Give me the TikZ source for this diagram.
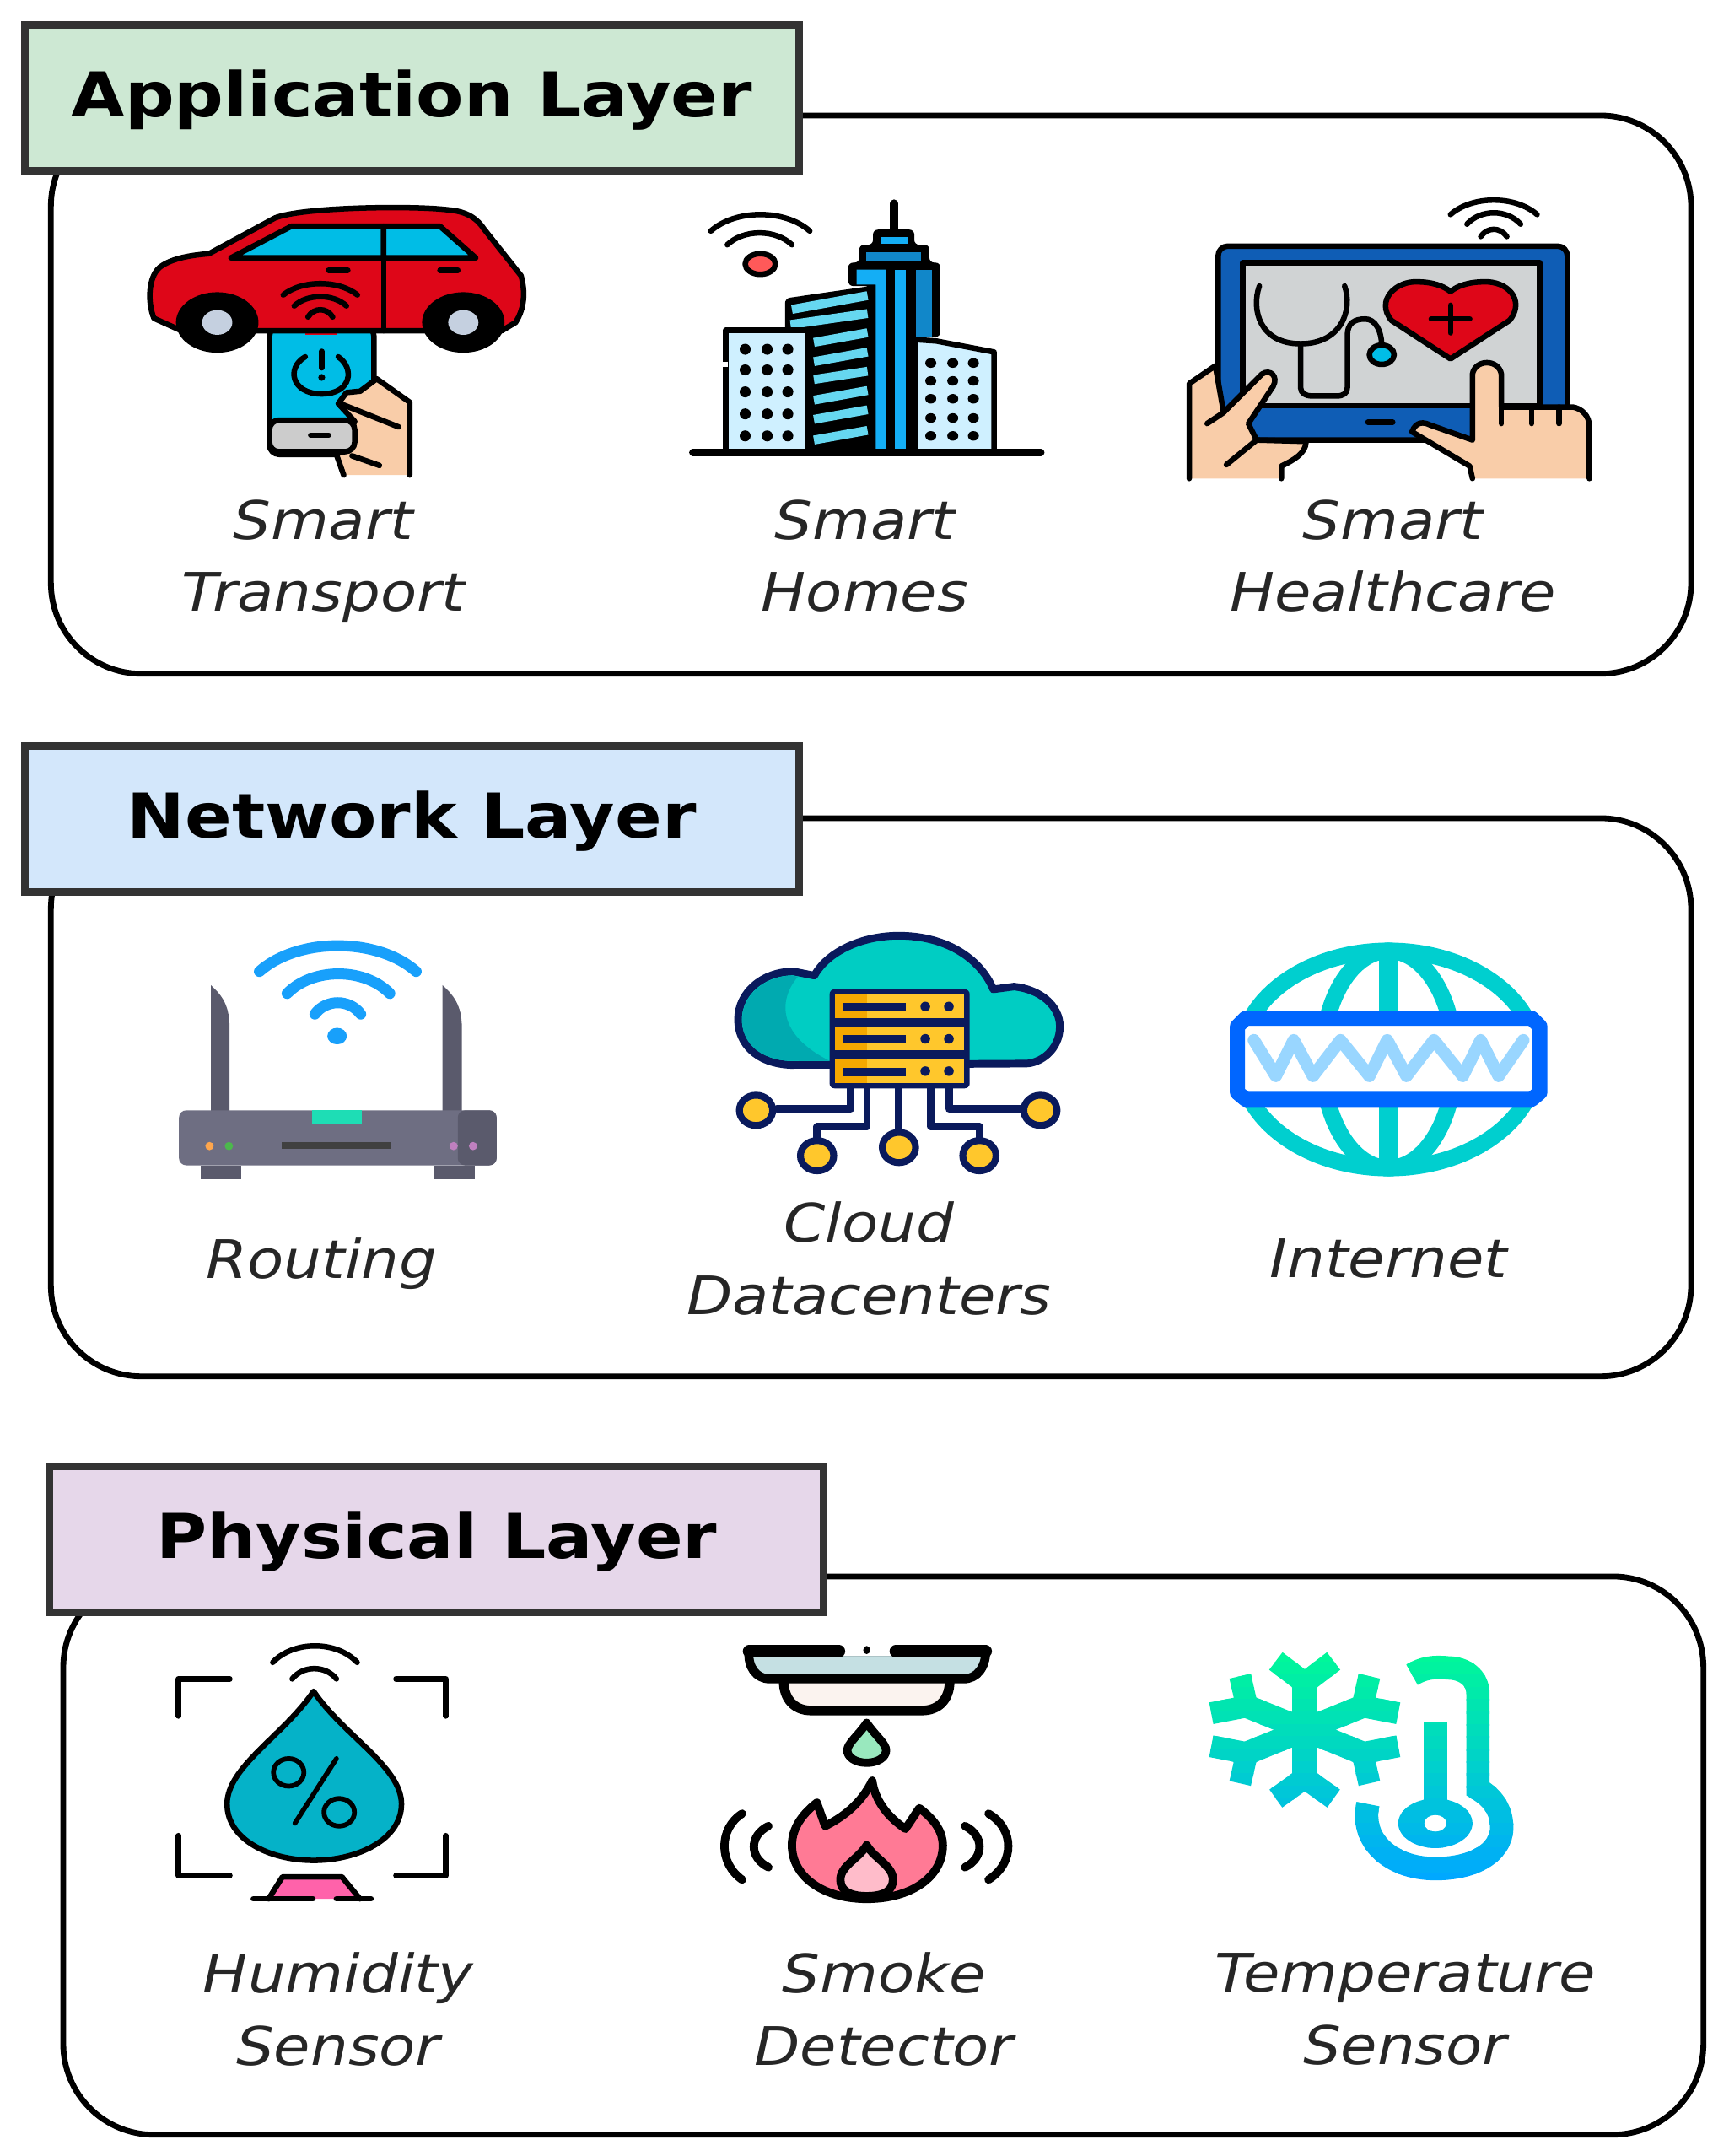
\documentclass[tikz,border=0pt]{standalone}
\usepackage{fontspec}
\setsansfont[FakeStretch=1.12]{DejaVu Sans}
\definecolor{appgreen}{HTML}{CDE8D3}
\definecolor{netblue}{HTML}{D3E7FB}
\definecolor{physlilac}{HTML}{E6D7EA}
\definecolor{carred}{HTML}{DE0618}
\definecolor{glass}{HTML}{00BDE6}
\definecolor{skin}{HTML}{F9CDA9}
\definecolor{hubgray}{HTML}{C5D0E0}
\definecolor{paleblue}{HTML}{CFF0FF}
\definecolor{towerblue}{HTML}{14AEF5}
\definecolor{deepblue}{HTML}{1187C9}
\definecolor{tabletblue}{HTML}{0F5DB5}
\definecolor{screengray}{HTML}{D0D3D4}
\definecolor{routergray}{HTML}{6E6E82}
\definecolor{routerdark}{HTML}{5A5A6C}
\definecolor{routerteal}{HTML}{1EDDB5}
\definecolor{signalblue}{HTML}{18A0FB}
\definecolor{navy}{HTML}{0A1A5C}
\definecolor{cloudteal}{HTML}{00CDC3}
\definecolor{cloudshade}{HTML}{00AAB0}
\definecolor{serveryellow}{HTML}{FFC72C}
\definecolor{serverorange}{HTML}{F5A800}
\definecolor{globeteal}{HTML}{00CFCF}
\definecolor{barblue}{HTML}{0066FF}
\definecolor{wwwblue}{HTML}{99D6FF}
\definecolor{dropteal}{HTML}{05B2C8}
\definecolor{flamepink}{HTML}{FF7A95}
\definecolor{detectorpale}{HTML}{C5E0E3}
\definecolor{cupwhite}{HTML}{FBF3EF}
\definecolor{mint}{HTML}{99E8BE}
\definecolor{frostgreen}{HTML}{00F79A}
\definecolor{frostblue}{HTML}{00A8FF}
\begin{document}
\begin{tikzpicture}[x=0.1mm,y=-0.1mm,
  layerpanel/.style={draw=black,line width=0.42mm,rounded corners=6.6mm,minimum width=119.3mm,minimum height=40.6mm},
  layerhead/.style={draw=black!80,line width=0.55mm,minimum width=56.3mm,minimum height=10.6mm,text height=3.3mm,text depth=0.5mm,font=\sffamily\bfseries\fontsize{12.8}{15}\selectfont},
  itemlabel/.style={align=center,text=black!85,font=\sffamily\itshape\fontsize{11}{15}\selectfont,inner sep=0pt,text depth=0pt},
  ink/.style={draw=black,line width=0.4mm,line join=round,line cap=round},
  navyline/.style={draw=navy,line width=0.55mm,line join=round,line cap=round},
  pinhead/.style={draw=navy,fill=serveryellow,line width=0.5mm}]
  \useasboundingbox (0,0) rectangle (1257,1568);
  % panels and their headers
  \node (apppanel) [layerpanel] at (633.5,287) {};
  \node (netpanel) [layerpanel,below of=apppanel,node distance=5.11cm] {};
  \node (physpanel) [layerpanel,below of=netpanel,node distance=5.515cm,xshift=0.09cm] {};
  \node (apphead) [layerhead,fill=appgreen,above of=apppanel,node distance=2.16cm,xshift=-3.34cm] {Application Layer};
  \node (nethead) [layerhead,fill=netblue,above of=netpanel,node distance=2.025cm,xshift=-3.34cm] {Network Layer};
  \node (physhead) [layerhead,fill=physlilac,above of=physpanel,node distance=2.3cm,xshift=-3.25cm] {Physical Layer};
  % labels
  \node (transport) [itemlabel] at (235,404) {Smart\\Transport};
  \node (homes) [itemlabel] at (629,404) {Smart\\Homes};
  \node (health) [itemlabel] at (1013,404) {Smart\\Healthcare};
  \node (routing) [itemlabel] at (234,915) {Routing};
  \node (cloud) [itemlabel] at (632,915) {Cloud\\Datacenters};
  \node (internet) [itemlabel] at (1010,915) {Internet};
  \node (humidity) [itemlabel] at (246,1461) {Humidity\\Sensor};
  \node (smoke) [itemlabel] at (643,1461) {Smoke\\Detector};
  \node (temperature) [itemlabel] at (1022,1461) {Temperature\\Sensor};
  % car
  \begin{scope}[yshift=-0.15mm]
  \draw[ink,fill=glass,rounded corners=2pt] (196,236) rectangle (272,329);
  \fill[carred] (222,236) rectangle (245,242);
  \draw[ink,fill=skin] (298,344) -- (298,291) -- (274,274) -- (262,283) -- (252,284) -- (246,292) -- (258,305) -- (245,330) -- (250,344);
  \draw[ink,fill=black!20,rounded corners=2pt] (196,304) rectangle (258,327);
  \draw[ink] (226,315) -- (239,315);
  \draw[ink] (250,293) -- (290,309);
  \draw[ink] (256,330) -- (276,337);
  \draw[ink] (222,258) .. controls (208,266) and (212,285) .. (234,285) .. controls (256,285) and (258,266) .. (246,258);
  \draw[ink] (234,254) -- (234,266);
  \fill (234,273) circle (2.5);
  \draw[ink,fill=carred] (132,239) -- (112,230) .. controls (107,218) and (108,200) .. (116,193) .. controls (125,186) and (140,184) .. (152,183) -- (200,157) .. controls (220,149) and (300,148) .. (325,151) .. controls (338,152) and (346,156) .. (352,165) -- (379,199) .. controls (382,210) and (382,222) .. (375,233) -- (365,239) -- cycle;
  \draw[ink,fill=glass] (168,186) -- (212,163) -- (279,163) -- (279,186) -- cycle;
  \draw[ink,fill=glass] (279,163) -- (320,163) -- (346,186) -- (279,186) -- cycle;
  \draw[ink] (279,186) -- (279,239);
  \draw[ink] (239,195) -- (253,195);
  \draw[ink] (320,195) -- (333,195);
  \draw[ink] (206,213) .. controls (219.5,202) and (246.5,202) .. (260,213);
  \draw[ink] (214,221) .. controls (223.5,212) and (242.5,212) .. (252,221);
  \draw[ink] (224,229) .. controls (228.5,222) and (237.5,222) .. (242,229);
  \foreach \wheelx in {158,337}{
    \fill[black] (\wheelx,233) ellipse [x radius=30,y radius=22];
    \fill[hubgray] (\wheelx,233) ellipse [x radius=11,y radius=9];
  }
  \end{scope}
  % city
  \begin{scope}[xshift=0.5mm]
  \fill[black,rounded corners=1pt] (566,217) -- (628,208) -- (612,208) -- (612,191) -- (620,191) -- (620,178) -- (630,178) -- (630,167) -- (660,167) -- (660,178) -- (671,178) -- (671,191) -- (679,191) -- (679,245) -- (662,245) -- (662,329) -- (583,329) -- (583,242) -- (566,242) -- cycle;
  \draw[ink,line width=0.6mm] (645.5,148) -- (645.5,167);
  \fill[towerblue] (636,172.5) rectangle (655,177.5);
  \fill[deepblue] (625,183.5) rectangle (665,189.5);
  \fill[towerblue] (618,196) -- (639,196) -- (639,327) -- (632,327) -- (632,207) -- (618,207) -- cycle;
  \fill[towerblue] (646,196) rectangle (654,327);
  \fill[deepblue] (661,196) rectangle (673,245);
  \foreach \lx/\ly/\ry in {571/225/215,570/236/228,587/249/242,587/263/256,587/276/270,587/291/284,587/305/298,587/320/313}{
    \draw[draw=glass!60!white,line width=0.65mm] (\lx,\ly) -- (626,\ry);
  }
  \draw[ink,fill=paleblue] (523,329) -- (523,240) -- (582,240) -- (582,329);
  \draw[white,line width=0.45mm] (522,263) -- (522,267);
  \draw[ink,fill=paleblue] (661,329) -- (661,247) -- (676,248) -- (718,256) -- (718,329);
  \foreach \dx in {537,553,568}{
    \foreach \dy in {254,269,285,301,317}{
      \fill (\dx,\dy) ellipse [x radius=4,y radius=4];
    }
  }
  \foreach \dx in {672,688,703}{
    \foreach \dy in {264,277,290,304,317}{
      \fill (\dx,\dy) ellipse [x radius=4,y radius=3.5];
    }
  }
  \draw[ink,line width=0.55mm] (499,329) -- (752,329);
  \draw[ink] (512,168) .. controls (530,152) and (566,152) .. (584,168);
  \draw[ink] (524,178) .. controls (536,166.5) and (559,166.5) .. (571,178);
  \draw[ink,fill=red!65] (548,192) ellipse [x radius=11,y radius=7.5];
  \end{scope}
  % tablet
  \draw[ink,fill=tabletblue,rounded corners=2pt] (886,179) rectangle (1140,320);
  \draw[ink,fill=screengray] (904,191) rectangle (1120,295);
  \draw[ink] (995,307) -- (1013,307);
  \draw[ink,fill=carred] (1055,261) -- (1012,233) .. controls (1000,218) and (1016,204) .. (1031,205) .. controls (1042,205) and (1050,208) .. (1055,212) .. controls (1060,208) and (1068,205) .. (1079,205) .. controls (1096,204) and (1110,218) .. (1098,233) -- cycle;
  \draw[ink] (1041,232) -- (1069,232);
  \draw[ink] (1055,222) -- (1055,242);
  \draw[ink] (916,208) .. controls (910,225) and (916,250) .. (946,250) .. controls (976,250) and (984,225) .. (978,208);
  \draw[ink] (946,250) -- (946,282) .. controls (946,286) and (950,288) .. (954,288) -- (972,288) .. controls (977,288) and (980,286) .. (980,282) -- (980,244) .. controls (980,235) and (985,232) .. (993,232) .. controls (1000,232) and (1005,240) .. (1005,252);
  \draw[ink,fill=glass] (1005,258) ellipse [x radius=9,y radius=7];
  \draw[ink,fill=skin] (865,348) -- (865,279) -- (884,266) -- (890,300) -- (918,272) .. controls (924,268) and (930,274) .. (926,281) -- (908,308) -- (914,320) -- (950,321) .. controls (950,330) and (940,335) .. (932,339) -- (932,348);
  \draw[ink] (890,300) -- (878,308);
  \draw[ink] (914,320) -- (892,338);
  \draw[ink,fill=skin] (1071,348) -- (1069,339) -- (1027,314) .. controls (1030,306) and (1036,307) .. (1040,309) -- (1071,320) -- (1071,272) .. controls (1073,261) and (1090,261) .. (1092,272) -- (1092,296) -- (1144,296) .. controls (1150,297) and (1156,302) .. (1156,310) -- (1156,348);
  \foreach \tickx in {1092,1114,1134}{
    \draw[ink] (\tickx,296) -- (\tickx,308);
  }
  \draw[ink] (1055,156) .. controls (1071,142) and (1102,142) .. (1118,156);
  \draw[ink] (1067,163) .. controls (1077,152) and (1096,152) .. (1106,163);
  \draw[ink] (1077,172) .. controls (1082,165) and (1091,165) .. (1096,172);
  % router
  \begin{scope}[xscale=1.009,yshift=-0.35mm]
  \fill[routerdark] (145,844) rectangle (174,854);
  \fill[routerdark] (313,844) rectangle (342,854);
  \fill[routerdark] (152,713) .. controls (162,722) and (165.5,730) .. (165.5,745) -- (165.5,806) -- (152,806) -- cycle;
  \fill[routerdark] (319,713) .. controls (329,722) and (333,730) .. (333,745) -- (333,806) -- (319,806) -- cycle;
  \fill[routergray,rounded corners=1.5pt] (129,804) rectangle (358,844);
  \fill[routerdark,rounded corners=1.5pt] (330,804) rectangle (358,844);
  \fill[routerteal] (225,804) rectangle (261,814);
  \fill[black!75] (203,827) rectangle (282,832);
  \fill[orange!70] (151,830) circle (3);
  \fill[green!60!black!70] (165,830) circle (3);
  \fill[violet!50] (327,830) circle (3);
  \fill[violet!50] (341,830) circle (3);
  \draw[signalblue,line width=0.8mm,line cap=round] (187,703) .. controls (215,678) and (272,678) .. (300,703);
  \draw[signalblue,line width=0.8mm,line cap=round] (207,719) .. controls (225.5,700) and (262.5,700) .. (281,719);
  \draw[signalblue,line width=0.8mm,line cap=round] (227,734) .. controls (235,723) and (252,723) .. (260,734);
  \fill[signalblue] (243,750) ellipse [x radius=7,y radius=6];
  % cloud
  \draw[navyline] (613,788) -- (613,803) -- (560,803);
  \draw[navyline] (625,788) -- (625,816) -- (589,816) -- (589,827);
  \draw[navyline] (648,788) -- (648,822);
  \draw[navyline] (671,788) -- (671,816) -- (706,816) -- (706,827);
  \draw[navyline] (684,788) -- (684,803) -- (739,803);
  \foreach \pinx/\piny in {545/804,589/837,648/831,706/837,750/804}{
    \draw[pinhead] (\pinx,\piny) ellipse [x radius=12,y radius=11];
  }
  \draw[navyline,line width=0.55mm,fill=cloudteal] (570,771) .. controls (545,770) and (532,755) .. (532,738) .. controls (532,718) and (550,703) .. (572,703) -- (587,706) .. controls (597,688) and (622,677) .. (648,677) .. controls (680,677) and (706,692) .. (716,716) -- (731,714) .. controls (750,716) and (764,728) .. (764,743) .. controls (764,760) and (750,770) .. (739,770) -- cycle;
  \fill[cloudshade] (570,768) .. controls (547,767) and (535,755) .. (535,738) .. controls (535,720) and (552,706) .. (572,706) -- (575,707) .. controls (560,725) and (562,750) .. (598,768) -- cycle;
  \fill[navy,rounded corners=1pt] (598,716) rectangle (699,788);
  \foreach \rowy in {720,743.5,767}{
    \fill[serveryellow] (602,\rowy) rectangle (695,\rowy+17);
    \fill[serverorange] (602,\rowy) rectangle (625,\rowy+17);
    \fill[navy] (608,\rowy+6) rectangle (653,\rowy+12);
    \fill[navy] (667,\rowy+8.5) circle (3.5);
    \fill[navy] (684,\rowy+8.5) circle (3.5);
  }
  \end{scope}
  % globe
  \begin{scope}[yshift=-0.35mm]
  \draw[globeteal,line width=1.2mm] (1010,767) ellipse [x radius=108,y radius=79];
  \draw[globeteal,line width=1.2mm] (1010,767) ellipse [x radius=48,y radius=79];
  \draw[globeteal,line width=1.4mm] (1010,685) -- (1010,849);
  \draw[draw=barblue,fill=white,line width=1.1mm,line join=round] (906,737) -- (1114,737) -- (1120,743) -- (1120,791) -- (1114,796) -- (906,796) -- (900,791) -- (900,743) -- cycle;
  \draw[wwwblue,line width=0.9mm,line join=round,line cap=round] (912,753) -- (928,779) -- (941,753) -- (955,779) -- (975,753) -- (996,779) -- (1009,753) -- (1023,779) -- (1043,753) -- (1064,779) -- (1077,753) -- (1090,779) -- (1108,753);
  \end{scope}
  % humidity sensor
  \begin{scope}[xscale=1.007]
  \draw[ink] (166,1221) -- (129,1221) -- (129,1248);
  \draw[ink] (286,1221) -- (322,1221) -- (322,1248);
  \draw[ink] (129,1335) -- (129,1364) -- (166,1364);
  \draw[ink] (322,1335) -- (322,1364) -- (286,1364);
  \draw[ink] (197,1209) .. controls (212,1193) and (243,1193) .. (258,1209);
  \draw[ink] (211,1221) .. controls (219,1211) and (235,1211) .. (243,1221);
  \draw[ink,fill=dropteal] (226.5,1230) .. controls (205,1262) and (164,1285) .. (164,1312) .. controls (164,1338) and (195,1353) .. (226.5,1353) .. controls (258,1353) and (290,1338) .. (290,1312) .. controls (290,1285) and (248,1262) .. (226.5,1230) -- cycle;
  \draw[ink,line width=0.35mm] (208.5,1289) ellipse [x radius=11,y radius=10];
  \draw[ink,line width=0.35mm] (245,1318) ellipse [x radius=11,y radius=10];
  \draw[ink,line width=0.35mm] (243,1279) -- (213,1326);
  \draw[ink,fill=flamepink!80!magenta] (194,1381) -- (204,1365) -- (247,1365) -- (260,1381);
  \draw[ink] (183,1381) -- (226,1381);
  \draw[ink] (243,1381) -- (268,1381);
  % smoke detector
  \draw[ink,line width=0.7mm,fill=cupwhite] (566,1222) .. controls (566,1236) and (574,1244) .. (586,1244) -- (666,1244) .. controls (678,1244) and (686,1236) .. (686,1222);
  \draw[ink,line width=0.65mm,fill=detectorpale] (541,1201) .. controls (540,1212) and (546,1221) .. (556,1221) -- (696,1221) .. controls (706,1221) and (712,1212) .. (712,1201) -- cycle;
  \fill[white] (608,1196) rectangle (645,1204);
  \draw[ink,line width=0.9mm] (541,1201) -- (606,1201);
  \draw[ink,line width=0.9mm] (647,1201) -- (712,1201);
  \fill (626,1200) ellipse [x radius=2.5,y radius=3];
  \draw[ink,line width=0.6mm,fill=mint] (626,1253) .. controls (620,1262) and (612,1268) .. (612,1273) .. controls (612,1278) and (618,1282) .. (626,1282) .. controls (634,1282) and (640,1278) .. (640,1273) .. controls (640,1268) and (632,1262) .. (626,1253) -- cycle;
  \draw[ink,line width=0.6mm,fill=flamepink] (626,1381) .. controls (595,1381) and (572,1365) .. (572,1342) .. controls (572,1333) and (576,1322) .. (590,1311) -- (596,1328) .. controls (608,1322) and (622,1312) .. (630,1295) .. controls (632,1310) and (642,1322) .. (654,1330) -- (664,1315) .. controls (676,1324) and (681,1333) .. (681,1342) .. controls (681,1365) and (658,1381) .. (626,1381) -- cycle;
  \draw[ink,line width=0.6mm,fill=flamepink!50!white] (626,1379) .. controls (612,1379) and (607,1374) .. (607,1367) .. controls (607,1357) and (620,1352) .. (626,1342) .. controls (632,1352) and (645,1357) .. (645,1367) .. controls (645,1374) and (640,1379) .. (626,1379) -- cycle;
  \draw[ink,line width=0.6mm] (536,1319) .. controls (519,1330) and (519,1355) .. (536,1367);
  \draw[ink,line width=0.6mm] (555,1328) .. controls (541,1335) and (541,1351) .. (555,1358);
  \draw[ink,line width=0.6mm] (714,1319) .. controls (733,1330) and (733,1355) .. (714,1367);
  \draw[ink,line width=0.6mm] (697,1328) .. controls (711,1335) and (711,1351) .. (697,1358);
  \end{scope}
  % snowflake and thermometer, coloured in bands from top to bottom
  \begin{scope}[xshift=0.3mm]
  \foreach \i in {0,...,18}{
    \pgfmathtruncatemacro{\mixval}{100*\i/18}
    \colorlet{bandcol}{frostblue!\mixval!frostgreen}
    \begin{scope}
      \clip (860,1200+9*\i) rectangle (1110,1210+9*\i);
      \draw[bandcol,line width=1.8mm] (946,1222) -- (946,1296);
      \draw[bandcol,line width=1.6mm] (925,1208) -- (946,1224) -- (967,1208);
      \draw[bandcol,line width=1.6mm] (925,1308) -- (946,1293) -- (967,1308);
      \draw[bandcol,line width=1.7mm] (904,1241) -- (988,1275);
      \draw[bandcol,line width=1.7mm] (988,1241) -- (904,1275);
      \draw[bandcol,line width=1.6mm] (993,1219) -- (988,1241) -- (1014,1246);
      \draw[bandcol,line width=1.6mm] (899,1219) -- (904,1241) -- (878,1246);
      \draw[bandcol,line width=1.6mm] (993,1297) -- (988,1275) -- (1014,1270);
      \draw[bandcol,line width=1.6mm] (899,1297) -- (904,1275) -- (878,1270);
      \draw[bandcol,line width=1.7mm] (992,1312) .. controls (986,1338) and (1008,1359) .. (1041,1359) .. controls (1072,1359) and (1092,1345) .. (1089,1325) .. controls (1088,1315) and (1082,1307) .. (1072,1301) -- (1072,1232) .. controls (1072,1220) and (1062,1213) .. (1050,1213) .. controls (1040,1212) and (1032,1213) .. (1024,1218);
      \draw[bandcol,line width=1.7mm] (1041,1252) -- (1041,1320);
      \fill[bandcol] (1041,1326) ellipse [x radius=27,y radius=18];
    \end{scope}
  }
  \fill[white] (1041,1326) ellipse [x radius=8,y radius=6];
  \end{scope}
\end{tikzpicture}
\end{document}
